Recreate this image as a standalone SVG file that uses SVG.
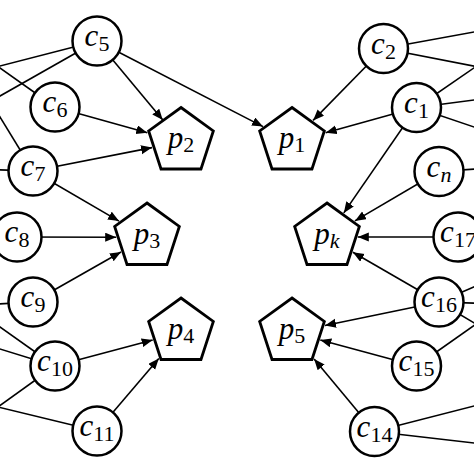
<svg xmlns="http://www.w3.org/2000/svg" xmlns:xlink="http://www.w3.org/1999/xlink" width="474" height="474" viewBox="0 0 474 474">
<style>
.edge{stroke:#000;stroke-width:1.6;fill:none}
.arr{marker-end:url(#ah)}
.cir{fill:#fff;stroke:#000;stroke-width:2.5}
.pen{fill:#fff;stroke:#000;stroke-width:2.8;stroke-linejoin:miter}
.lbl{font-family:"Liberation Serif","Times New Roman",serif;font-size:31px;text-anchor:middle;fill:#000}
.v{font-style:italic}
.s{font-size:22px}
</style>
<defs>
<marker id="ah" markerUnits="userSpaceOnUse" markerWidth="12" markerHeight="10" refX="11" refY="4.5" orient="auto">
<path d="M0,0 L11,4.5 L0,9 Z" fill="#000"/>
</marker>
<polygon id="pent" points="0,-34 32.34,-10.51 19.98,27.51 -19.98,27.51 -32.34,-10.51"/>
</defs>
<rect width="474" height="474" fill="#fff"/>
<g id="connectors">
<!-- left off-canvas lines -->
<line class="edge" x1="97" y1="41" x2="-2" y2="66.5"/>
<line class="edge" x1="55" y1="107" x2="-2" y2="66.5"/>
<line class="edge" x1="97" y1="41" x2="-10" y2="101.7"/>
<line class="edge" x1="33" y1="171" x2="-5" y2="108.8"/>
<line class="edge" x1="33" y1="171" x2="-10" y2="169.5"/>
<line class="edge" x1="33" y1="302" x2="-10" y2="304.5"/>
<line class="edge" x1="55" y1="366" x2="-10" y2="319.9"/>
<line class="edge" x1="55" y1="366" x2="-10" y2="345.9"/>
<line class="edge" x1="55" y1="366" x2="-2" y2="407"/>
<line class="edge" x1="97" y1="431" x2="-2" y2="407"/>
<!-- right off-canvas lines -->
<line class="edge" x1="383.5" y1="48.5" x2="484" y2="30.2"/>
<line class="edge" x1="383.5" y1="48.5" x2="476" y2="66.5"/>
<line class="edge" x1="416.5" y1="107.5" x2="476" y2="66.5"/>
<line class="edge" x1="416.5" y1="107.5" x2="484" y2="98.7"/>
<line class="edge" x1="416.5" y1="107.5" x2="484" y2="130.4"/>
<line class="edge" x1="439" y1="171.5" x2="484" y2="168.5"/>
<line class="edge" x1="439" y1="302" x2="484" y2="282.7"/>
<line class="edge" x1="439" y1="302" x2="484" y2="303.5"/>
<line class="edge" x1="439" y1="302" x2="476" y2="324"/>
<line class="edge" x1="416.5" y1="366" x2="476" y2="324"/>
<line class="edge" x1="374.5" y1="431.5" x2="484" y2="403.4"/>
<line class="edge" x1="374.5" y1="431.5" x2="484" y2="444.2"/>
<!-- arrows left -->
<line class="edge arr" x1="97" y1="41" x2="162.8" y2="120"/>
<line class="edge arr" x1="97" y1="41" x2="263" y2="126.6"/>
<line class="edge arr" x1="55" y1="107" x2="147.3" y2="132.7"/>
<line class="edge arr" x1="33" y1="171" x2="152" y2="147.6"/>
<line class="edge arr" x1="33" y1="171" x2="119" y2="221.1"/>
<line class="edge arr" x1="17" y1="237" x2="116.2" y2="237.2"/>
<line class="edge arr" x1="33" y1="302" x2="121" y2="252"/>
<line class="edge arr" x1="55" y1="366" x2="152.7" y2="339.9"/>
<line class="edge arr" x1="97" y1="431" x2="158.8" y2="358.5"/>
<!-- arrows right -->
<line class="edge arr" x1="383.5" y1="48.5" x2="313.1" y2="120.4"/>
<line class="edge arr" x1="416.5" y1="107.5" x2="325.7" y2="132.7"/>
<line class="edge arr" x1="416.5" y1="107.5" x2="343.8" y2="212.9"/>
<line class="edge arr" x1="439" y1="171.5" x2="354.9" y2="220.9"/>
<line class="edge arr" x1="458" y1="237" x2="357.8" y2="237"/>
<line class="edge arr" x1="439" y1="302" x2="352.9" y2="252.3"/>
<line class="edge arr" x1="439" y1="302" x2="325" y2="325.5"/>
<line class="edge arr" x1="416.5" y1="366" x2="320.3" y2="340"/>
<line class="edge arr" x1="374.5" y1="431.5" x2="314.1" y2="358.9"/>
</g>
<g id="c5"><circle class="cir" cx="97" cy="41" r="24.5"/><text class="lbl" x="97" y="46"><tspan class="v">c</tspan><tspan class="s" dy="5">5</tspan></text></g>
<g id="c6"><circle class="cir" cx="55" cy="107" r="24.5"/><text class="lbl" x="55" y="112"><tspan class="v">c</tspan><tspan class="s" dy="5">6</tspan></text></g>
<g id="c7"><circle class="cir" cx="33" cy="171" r="24.5"/><text class="lbl" x="33" y="176"><tspan class="v">c</tspan><tspan class="s" dy="5">7</tspan></text></g>
<g id="c8"><circle class="cir" cx="17" cy="237" r="24.5"/><text class="lbl" x="17" y="242"><tspan class="v">c</tspan><tspan class="s" dy="5">8</tspan></text></g>
<g id="c9"><circle class="cir" cx="33" cy="302" r="24.5"/><text class="lbl" x="33" y="307"><tspan class="v">c</tspan><tspan class="s" dy="5">9</tspan></text></g>
<g id="c10"><circle class="cir" cx="55" cy="366" r="24.5"/><text class="lbl" x="55" y="371"><tspan class="v">c</tspan><tspan class="s" dy="5">10</tspan></text></g>
<g id="c11"><circle class="cir" cx="97" cy="431" r="24.5"/><text class="lbl" x="97" y="436"><tspan class="v">c</tspan><tspan class="s" dy="5">11</tspan></text></g>
<g id="c2"><circle class="cir" cx="383.5" cy="48.5" r="24.5"/><text class="lbl" x="383.5" y="53.5"><tspan class="v">c</tspan><tspan class="s" dy="5">2</tspan></text></g>
<g id="c1"><circle class="cir" cx="416.5" cy="107.5" r="24.5"/><text class="lbl" x="416.5" y="112.5"><tspan class="v">c</tspan><tspan class="s" dy="5">1</tspan></text></g>
<g id="cn"><circle class="cir" cx="439" cy="171.5" r="24.5"/><text class="lbl" x="439" y="176.5"><tspan class="v">c</tspan><tspan class="s v" dy="5">n</tspan></text></g>
<g id="c17"><circle class="cir" cx="458" cy="237" r="24.5"/><text class="lbl" x="458" y="242"><tspan class="v">c</tspan><tspan class="s" dy="5">17</tspan></text></g>
<g id="c16"><circle class="cir" cx="439" cy="302" r="24.5"/><text class="lbl" x="439" y="307"><tspan class="v">c</tspan><tspan class="s" dy="5">16</tspan></text></g>
<g id="c15"><circle class="cir" cx="416.5" cy="366" r="24.5"/><text class="lbl" x="416.5" y="371"><tspan class="v">c</tspan><tspan class="s" dy="5">15</tspan></text></g>
<g id="c14"><circle class="cir" cx="374.5" cy="431.5" r="24.5"/><text class="lbl" x="374.5" y="436.5"><tspan class="v">c</tspan><tspan class="s" dy="5">14</tspan></text></g>
<g id="p2"><use xlink:href="#pent" class="pen" x="181" y="141.5"/><text class="lbl" x="181" y="148"><tspan class="v">p</tspan><tspan class="s" dy="4">2</tspan></text></g>
<g id="p3"><use xlink:href="#pent" class="pen" x="147" y="237"/><text class="lbl" x="147" y="243.5"><tspan class="v">p</tspan><tspan class="s" dy="4">3</tspan></text></g>
<g id="p4"><use xlink:href="#pent" class="pen" x="181" y="332"/><text class="lbl" x="181" y="338.5"><tspan class="v">p</tspan><tspan class="s" dy="4">4</tspan></text></g>
<g id="p1"><use xlink:href="#pent" class="pen" x="292" y="141.5"/><text class="lbl" x="292" y="148"><tspan class="v">p</tspan><tspan class="s" dy="4">1</tspan></text></g>
<g id="pk"><use xlink:href="#pent" class="pen" x="327" y="237"/><text class="lbl" x="327" y="243.5"><tspan class="v">p</tspan><tspan class="s v" dy="4">k</tspan></text></g>
<g id="p5"><use xlink:href="#pent" class="pen" x="292" y="332"/><text class="lbl" x="292" y="338.5"><tspan class="v">p</tspan><tspan class="s" dy="4">5</tspan></text></g>
</svg>
